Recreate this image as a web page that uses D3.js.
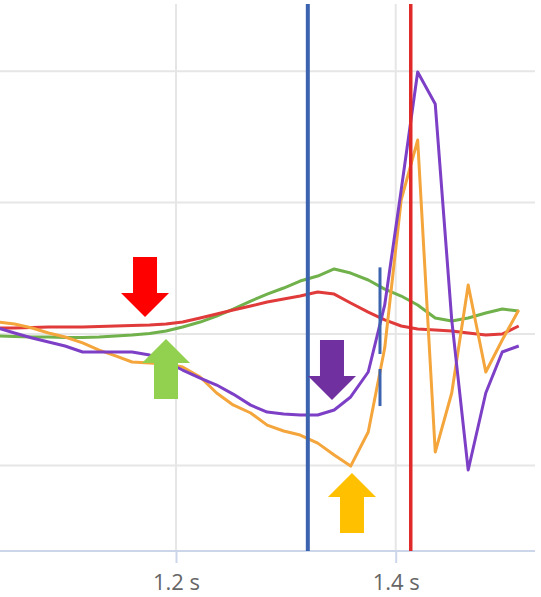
<!DOCTYPE html>
<html lang="en">
  <head>
    <title>Signal traces</title>
    <script src="https://d3js.org/d3.v7.min.js"></script>
    <style>
      body {
        margin: 0;
        background: white;
      }
      .grid line {
        stroke: #e6e6e6;
        stroke-width: 2;
      }
      .trace {
        fill: none;
        stroke-width: 3;
        stroke-linejoin: round;
      }
      .tickLabel {
        fill: #666666;
        font-family: "Open Sans", sans-serif;
        font-size: 22px;
        text-anchor: middle;
      }
    </style>
  </head>
  <body>
    <div id="chartArea"></div>
    <script>
      let width = 541;
      let height = 597;

      // Sample times (s)
      let times = [
        1.038, 1.053, 1.069, 1.084, 1.099, 1.115, 1.13, 1.145, 1.16, 1.176,
        1.191, 1.206, 1.222, 1.237, 1.252, 1.268, 1.283, 1.298, 1.313, 1.329,
        1.344, 1.359, 1.375, 1.39, 1.405, 1.42, 1.436, 1.451, 1.466, 1.482,
        1.497, 1.512,
      ];

      // Series values
      let redValues = [
        0.046, 0.046, 0.049, 0.053, 0.053, 0.053, 0.057, 0.061, 0.065, 0.068,
        0.076, 0.091, 0.122, 0.152, 0.183, 0.213, 0.244, 0.266, 0.289, 0.32,
        0.304, 0.236, 0.167, 0.107, 0.061, 0.038, 0.03, 0.023, 0.008, -0.008,
        0.0, 0.061,
      ];
      let greenValues = [
        -0.015, -0.019, -0.023, -0.023, -0.027, -0.027, -0.023, -0.015, -0.008,
        0.004, 0.023, 0.053, 0.091, 0.137, 0.19, 0.251, 0.304, 0.35, 0.403,
        0.441, 0.495, 0.464, 0.411, 0.342, 0.289, 0.221, 0.122, 0.099, 0.122,
        0.16, 0.19, 0.175,
      ];
      let orangeValues = [
        0.091, 0.076, 0.046, 0.008, -0.023, -0.068, -0.122, -0.167, -0.213,
        -0.221, -0.228, -0.251, -0.327, -0.449, -0.54, -0.601, -0.693, -0.738,
        -0.769, -0.83, -0.921, -1.005, -0.746, -0.107, 1.02, 1.476, -0.898,
        -0.449, 0.373, -0.289, -0.046, 0.183,
      ];
      let purpleValues = [
        0.046, 0.008, -0.03, -0.061, -0.091, -0.137, -0.137, -0.137, -0.137,
        -0.16, -0.213, -0.274, -0.335, -0.388, -0.457, -0.541, -0.594, -0.609,
        -0.616, -0.616, -0.578, -0.479, -0.289, 0.221, 1.096, 1.994, 1.75,
        0.107, -1.035, -0.449, -0.137, -0.091,
      ];

      // Tick values
      let xTicks = [1.2, 1.4];
      let xTickLabels = ["1.2 s", "1.4 s"];
      let yTicks = [-1, 0, 1, 2];

      // Event markers (s)
      let blueMarker = 1.32;
      let redMarker = 1.4137;
      let smallMarker = 1.3857;
      let smallMarkerSpans = [
        [0.507, -0.152],
        [-0.266, -0.548],
      ];

      // Arrow tips [time, value, direction]
      let arrows = [
        { t: 1.1718, v: 0.129, dir: "down", color: "#ff0000" },
        { t: 1.1909, v: -0.038, dir: "up", color: "#92d050" },
        { t: 1.342, v: -0.502, dir: "down", color: "#7030a0" },
        { t: 1.3602, v: -1.058, dir: "up", color: "#ffc000" },
      ];

      let plotTop = 4;
      let plotBottom = 551;
      let plotLeft = 0;
      let plotRight = 535;

      let x = d3.scaleLinear().domain([1.2, 1.4]).range([176, 395.7]);
      let y = d3
        .scaleLinear()
        .domain([-1.651, 2.511])
        .range([plotBottom, plotTop]);

      let svg = d3
        .select("#chartArea")
        .append("svg")
        .attr("width", width)
        .attr("height", height);

      svg
        .append("defs")
        .append("clipPath")
        .attr("id", "plotClip")
        .append("rect")
        .attr("x", plotLeft)
        .attr("y", plotTop)
        .attr("width", plotRight - plotLeft)
        .attr("height", plotBottom - plotTop);

      // Grid lines
      let grid = svg.append("g").classed("grid", true);
      grid
        .selectAll("line.h")
        .data(yTicks)
        .enter()
        .append("line")
        .attr("class", "h")
        .attr("x1", plotLeft)
        .attr("x2", plotRight)
        .attr("y1", function (d) {
          return y(d);
        })
        .attr("y2", function (d) {
          return y(d);
        });
      grid
        .selectAll("line.v")
        .data(xTicks)
        .enter()
        .append("line")
        .attr("class", "v")
        .attr("x1", function (d) {
          return x(d);
        })
        .attr("x2", function (d) {
          return x(d);
        })
        .attr("y1", plotTop)
        .attr("y2", plotBottom);

      // X axis
      let xAxis = d3
        .axisBottom(x)
        .tickValues(xTicks)
        .tickSize(12)
        .tickFormat(function (d, i) {
          return xTickLabels[i];
        });
      let axisG = svg
        .append("g")
        .attr("transform", "translate(0," + plotBottom + ")")
        .call(xAxis);
      axisG.select(".domain").remove();
      axisG
        .append("line")
        .attr("x1", plotLeft)
        .attr("x2", plotRight)
        .attr("stroke", "#ccd6eb")
        .attr("stroke-width", 2);
      axisG
        .selectAll(".tick line")
        .attr("stroke", "#ccd6eb")
        .attr("stroke-width", 2);
      axisG
        .selectAll(".tick text")
        .attr("class", "tickLabel")
        .attr("fill", null)
        .attr("font-size", null)
        .attr("font-family", null)
        .attr("dy", null)
        .attr("y", 39);

      // Traces
      let series = [
        { values: greenValues, color: "#70b14c" },
        { values: redValues, color: "#e03a3a" },
        { values: orangeValues, color: "#f4a53b" },
        { values: purpleValues, color: "#7c3fc6" },
      ];
      let line = d3
        .line()
        .x(function (d, i) {
          return x(times[i]);
        })
        .y(function (d) {
          return y(d);
        });
      svg
        .append("g")
        .attr("clip-path", "url(#plotClip)")
        .selectAll("path")
        .data(series)
        .enter()
        .append("path")
        .classed("trace", true)
        .attr("stroke", function (d) {
          return d.color;
        })
        .attr("d", function (d) {
          return line(d.values);
        });

      // Event markers
      svg
        .append("line")
        .attr("x1", x(blueMarker))
        .attr("x2", x(blueMarker))
        .attr("y1", plotTop)
        .attr("y2", plotBottom)
        .attr("stroke", "#3b63b0")
        .attr("stroke-width", 4);
      svg
        .append("line")
        .attr("x1", x(redMarker))
        .attr("x2", x(redMarker))
        .attr("y1", plotTop)
        .attr("y2", plotBottom)
        .attr("stroke", "#e02a2a")
        .attr("stroke-width", 3.5);
      svg
        .append("g")
        .selectAll("line")
        .data(smallMarkerSpans)
        .enter()
        .append("line")
        .attr("x1", x(smallMarker))
        .attr("x2", x(smallMarker))
        .attr("y1", function (d) {
          return y(d[0]);
        })
        .attr("y2", function (d) {
          return y(d[1]);
        })
        .attr("stroke", "#3b63b0")
        .attr("stroke-width", 3);

      // Arrows: length 60, head 24 long and 48 wide, shaft 24 wide
      function arrowPath(d) {
        let tx = x(d.t);
        let ty = y(d.v);
        let s = d.dir === "down" ? -1 : 1;
        let pts = [
          [0, 0],
          [24, 24],
          [12, 24],
          [12, 60],
          [-12, 60],
          [-12, 24],
          [-24, 24],
        ];
        return (
          "M" +
          pts
            .map(function (p) {
              return tx + p[0] + "," + (ty + s * p[1]);
            })
            .join("L") +
          "Z"
        );
      }
      svg
        .append("g")
        .selectAll("path")
        .data(arrows)
        .enter()
        .append("path")
        .attr("d", arrowPath)
        .attr("fill", function (d) {
          return d.color;
        });
    </script>
  </body>
</html>
